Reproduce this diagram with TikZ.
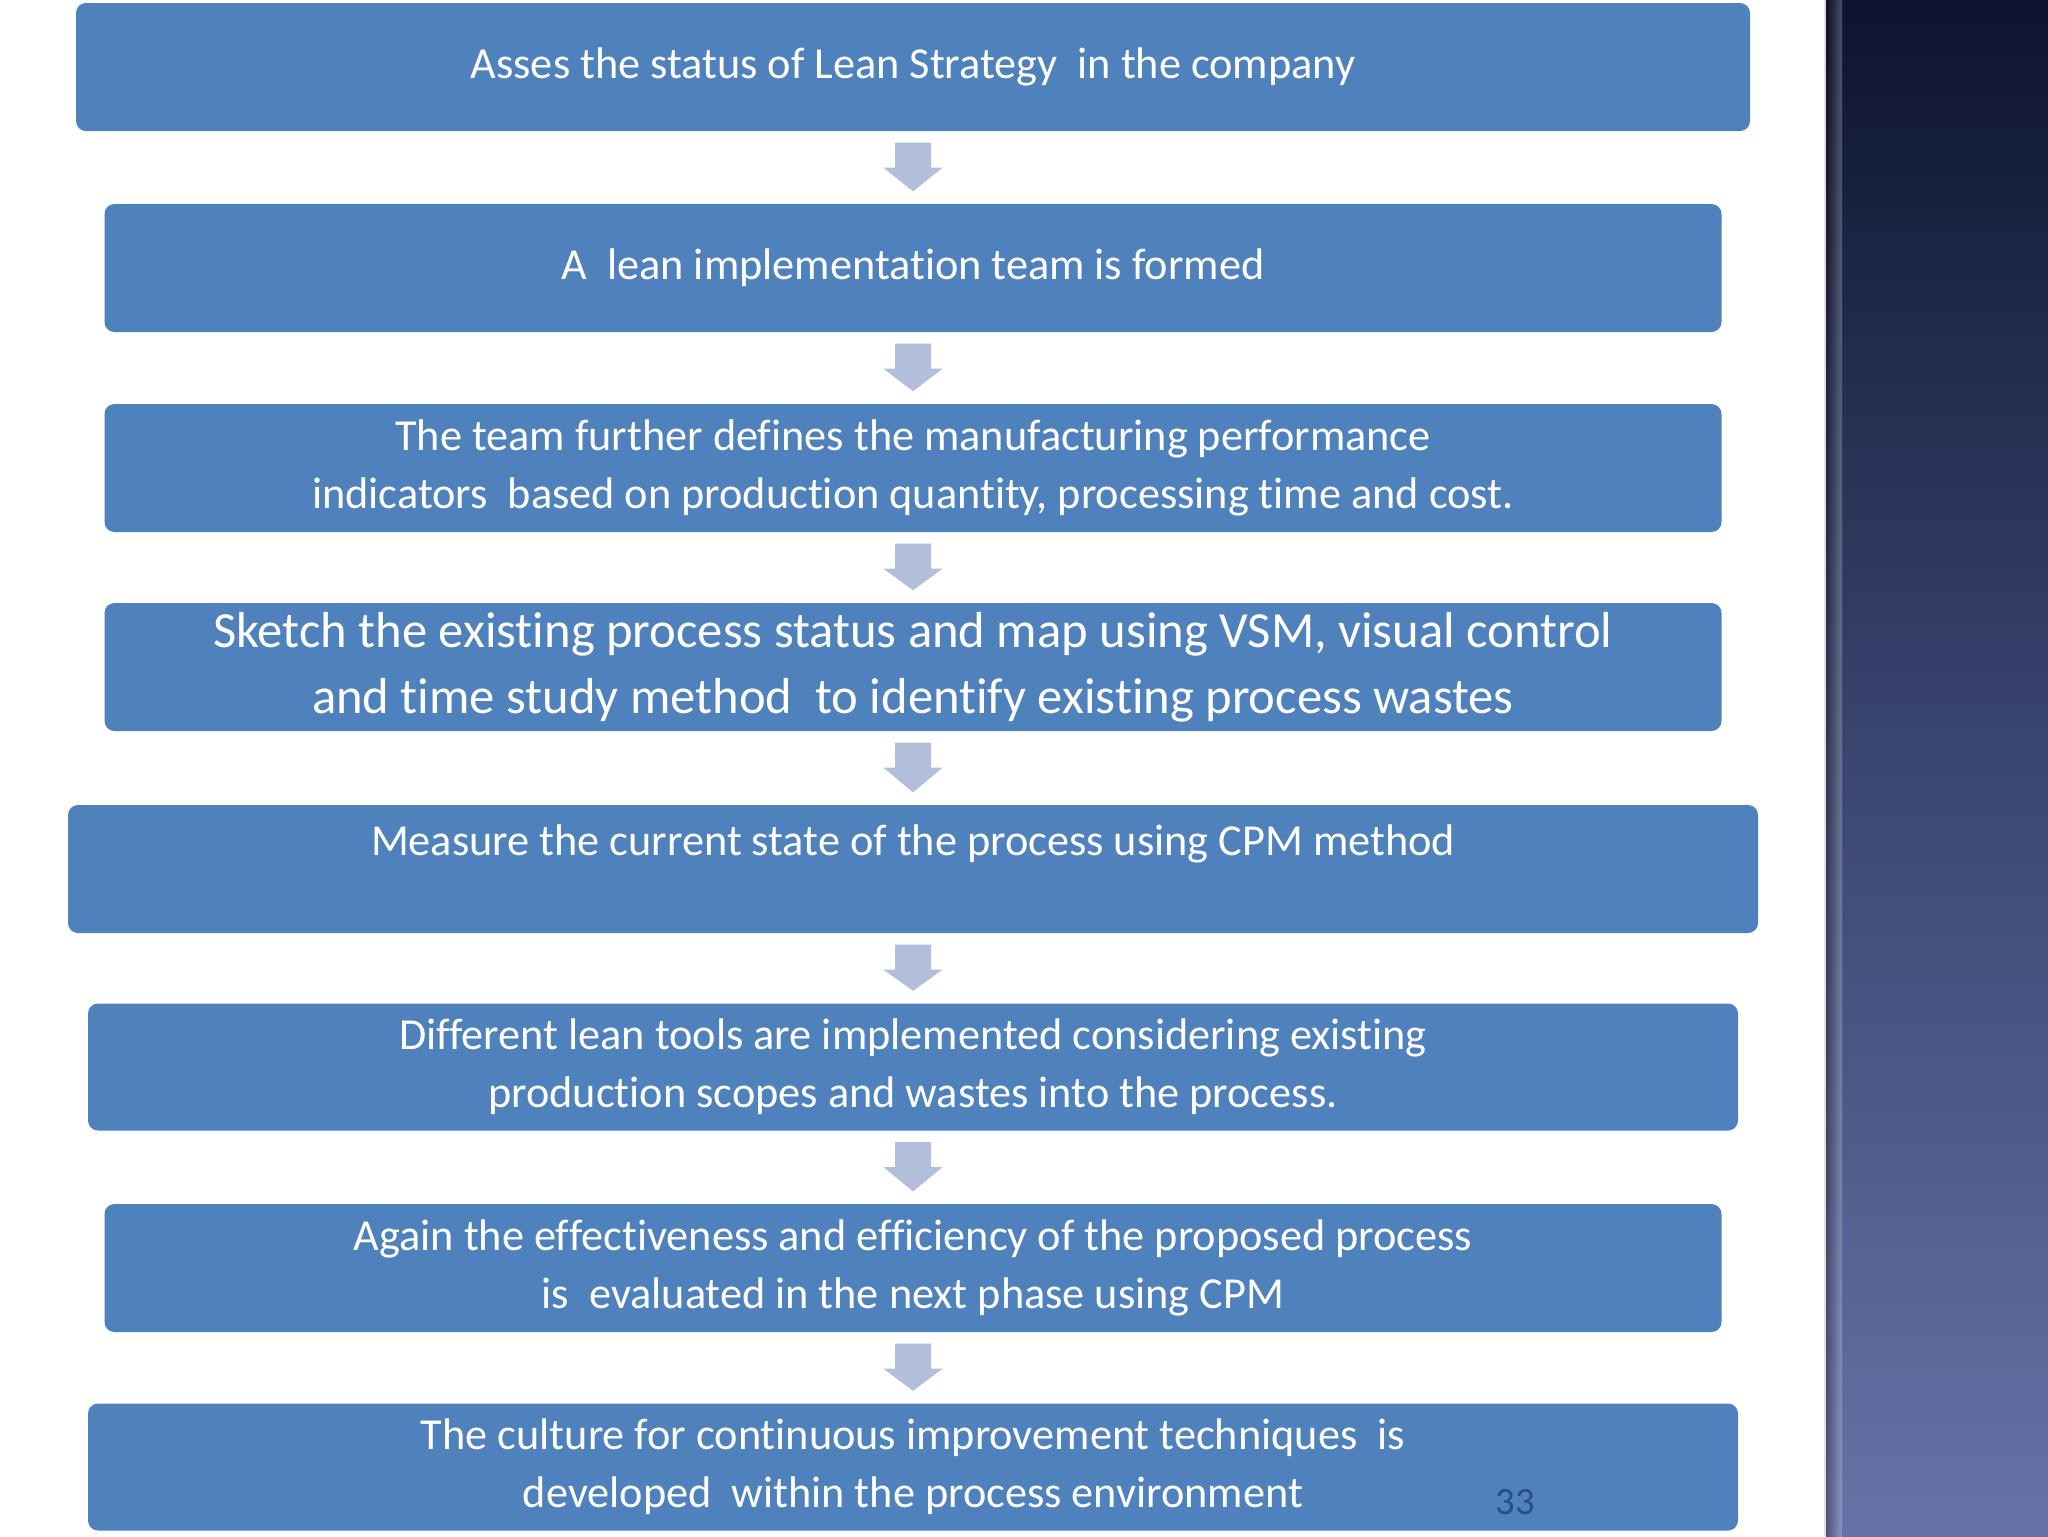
\documentclass[tikz,border=0pt]{standalone}
\usepackage{fontspec}
\setmainfont[Ligatures={NoCommon}]{Carlito}
\usetikzlibrary{calc}
\definecolor{boxblue}{HTML}{4F81BD}
\definecolor{arrowgrey}{HTML}{B3BEDB}
\definecolor{paneltop}{HTML}{0D1430}
\definecolor{panelmid}{HTML}{3A4770}
\definecolor{panelbot}{HTML}{6673A8}
\definecolor{numblue}{HTML}{2B4C8A}
\tikzset{
  stepbox/.style={fill=boxblue, draw=none, rounded corners=1mm, inner sep=0pt,
    align=center, text=white, font=\fontsize{12.6}{16.5}\selectfont},
  bigtext/.style={font=\fontsize{14.4}{18.8}\selectfont},
  blockarrow/.style={fill=arrowgrey, draw=none}
}
\newcommand{\downarrowbetween}[2]{%
  \fill[blockarrow] ($(#1.south)+(-1.8mm,-1.1mm)$) -- ($(#1.south)+(1.8mm,-1.1mm)$)
    -- ($(#1.south)+(1.8mm,-3.6mm)$) -- ($(#1.south)+(2.95mm,-3.6mm)$)
    -- ($(#2.north)+(0,1.2mm)$) -- ($(#1.south)+(-2.95mm,-3.6mm)$)
    -- ($(#1.south)+(-1.8mm,-3.6mm)$) -- cycle;}
\begin{document}
\begin{tikzpicture}[x=0.1mm, y=-0.1mm]
\useasboundingbox (0,0) rectangle (2048,1536);
\fill[white] (0,0) rectangle (2048,1536);
% right panel
\shade[top color=paneltop, bottom color=panelbot, middle color=panelmid] (1826,0) rectangle (2048,1536);
\shade[left color=black, right color=black!0, opacity=0.25] (1826,0) rectangle (1842,1536);
\draw[black!12, line width=0.15mm] (1825,0) -- (1825,1536);
% boxes
\node[stepbox, minimum width=167.4mm, minimum height=12.8mm] (b1) at (913,67)
  {Asses the status of Lean Strategy\ \ in the company};
\node[stepbox, minimum width=161.7mm, minimum height=12.8mm] (b2) at (913,268)
  {A\ \ lean implementation team is formed};
\node[stepbox, minimum width=161.7mm, minimum height=12.8mm] (b3) at (913,468)
  {The team further defines the manufacturing performance\\indicators\ \ based on production quantity, processing time and cost.};
\node[stepbox, bigtext, minimum width=161.7mm, minimum height=12.8mm] (b4) at (913,667)
  {Sketch the existing process status and map using VSM, visual control\\and time study method\ \ to identify existing process wastes};
\node[stepbox, minimum width=169.0mm, minimum height=12.8mm] (b5) at (913,869)
  {Measure the current state of the process using CPM method\\\mbox{}};
\node[stepbox, minimum width=165.0mm, minimum height=12.7mm] (b6) at (913,1067)
  {Different lean tools are implemented considering existing\\production scopes and wastes into the process.};
\node[stepbox, minimum width=161.7mm, minimum height=12.8mm] (b7) at (913,1268)
  {Again the effectiveness and efficiency of the proposed process\\is\ \ evaluated in the next phase using CPM};
\node[stepbox, minimum width=165.0mm, minimum height=12.7mm] (b8) at (913,1467)
  {The culture for continuous improvement techniques\ \ is\\developed\ \ within the process environment};
\node[text=numblue, font=\fontsize{11}{12}\selectfont, inner sep=0pt] (pagenum) at (1515,1502) {33};
% arrows
\downarrowbetween{b1}{b2}
\downarrowbetween{b2}{b3}
\downarrowbetween{b3}{b4}
\downarrowbetween{b4}{b5}
\downarrowbetween{b5}{b6}
\downarrowbetween{b6}{b7}
\downarrowbetween{b7}{b8}
\end{tikzpicture}
\end{document}
